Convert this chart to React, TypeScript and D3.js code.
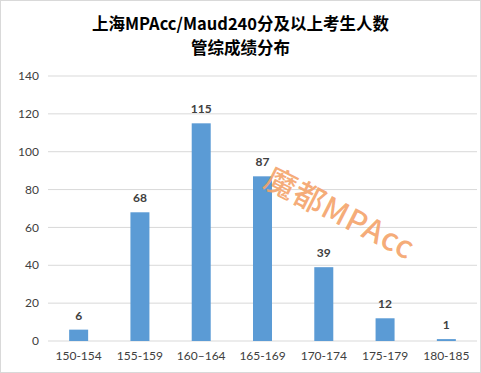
import React from "react";
import * as d3 from "d3";

const categories = ["150-154", "155-159", "160–164", "165-169", "170-174", "175-179", "180-185"];
const values = [6, 68, 115, 87, 39, 12, 1];
const yTicks = [0, 20, 40, 60, 80, 100, 120, 140];
const titleLines = ["上海MPAcc/Maud240分及以上考生人数", "管综成绩分布"];
const watermark = "魔都MPAcc";

export default function App() {
  const W = 481, H = 373;
  const left = 48, right = 477, top = 76, bottom = 341;
  const x = d3.scaleBand<string>().domain(categories).range([left, right]).paddingInner(0.69).paddingOuter(0.345);
  const y = d3.scaleLinear().domain([0, 140]).range([bottom, top]);
  const font = "Lato, 'Noto Sans CJK SC', sans-serif";
  return (
    <svg width={W} height={H} style={{ position: "absolute", left: 0, top: 0, background: "#fff" }} fontFamily={font}>
      <rect x={0.5} y={0.5} width={W - 1} height={H - 1} fill="#fff" stroke="#D9D9D9" />
      {titleLines.map((t, i) => (
        <text key={i} x={W / 2} y={30 + i * 24} textAnchor="middle" fontSize={16.5} fontWeight="bold" fill="#000"
          fontFamily="'Noto Sans CJK SC', sans-serif">{t}</text>
      ))}
      {yTicks.map(t => (
        <g key={t}>
          <line x1={left} x2={right} y1={y(t)} y2={y(t)} stroke="#D9D9D9" strokeWidth={1} />
          <text x={39} y={y(t)} dy="0.35em" textAnchor="end" fontSize={12} fill="#404040">{t}</text>
        </g>
      ))}
      {categories.map((c, i) => (
        <g key={c}>
          <rect x={x(c)} y={y(values[i])} width={x.bandwidth()} height={bottom - y(values[i])} fill="#5B9BD5" />
          <text x={(x(c) as number) + x.bandwidth() / 2} y={y(values[i]) - 10} textAnchor="middle" fontSize={12} fontWeight="bold" fill="#404040">{values[i]}</text>
          <text x={(x(c) as number) + x.bandwidth() / 2} y={360} textAnchor="middle" fontSize={12} fill="#404040">{c}</text>
        </g>
      ))}
      <text x={262} y={186} fontSize={31} fill="#F4A46C" fillOpacity={0.92} transform="rotate(27 262 186)"
        fontFamily="'Noto Sans CJK SC', sans-serif" fontWeight={500} letterSpacing={1}>{watermark}</text>
    </svg>
  );
}
